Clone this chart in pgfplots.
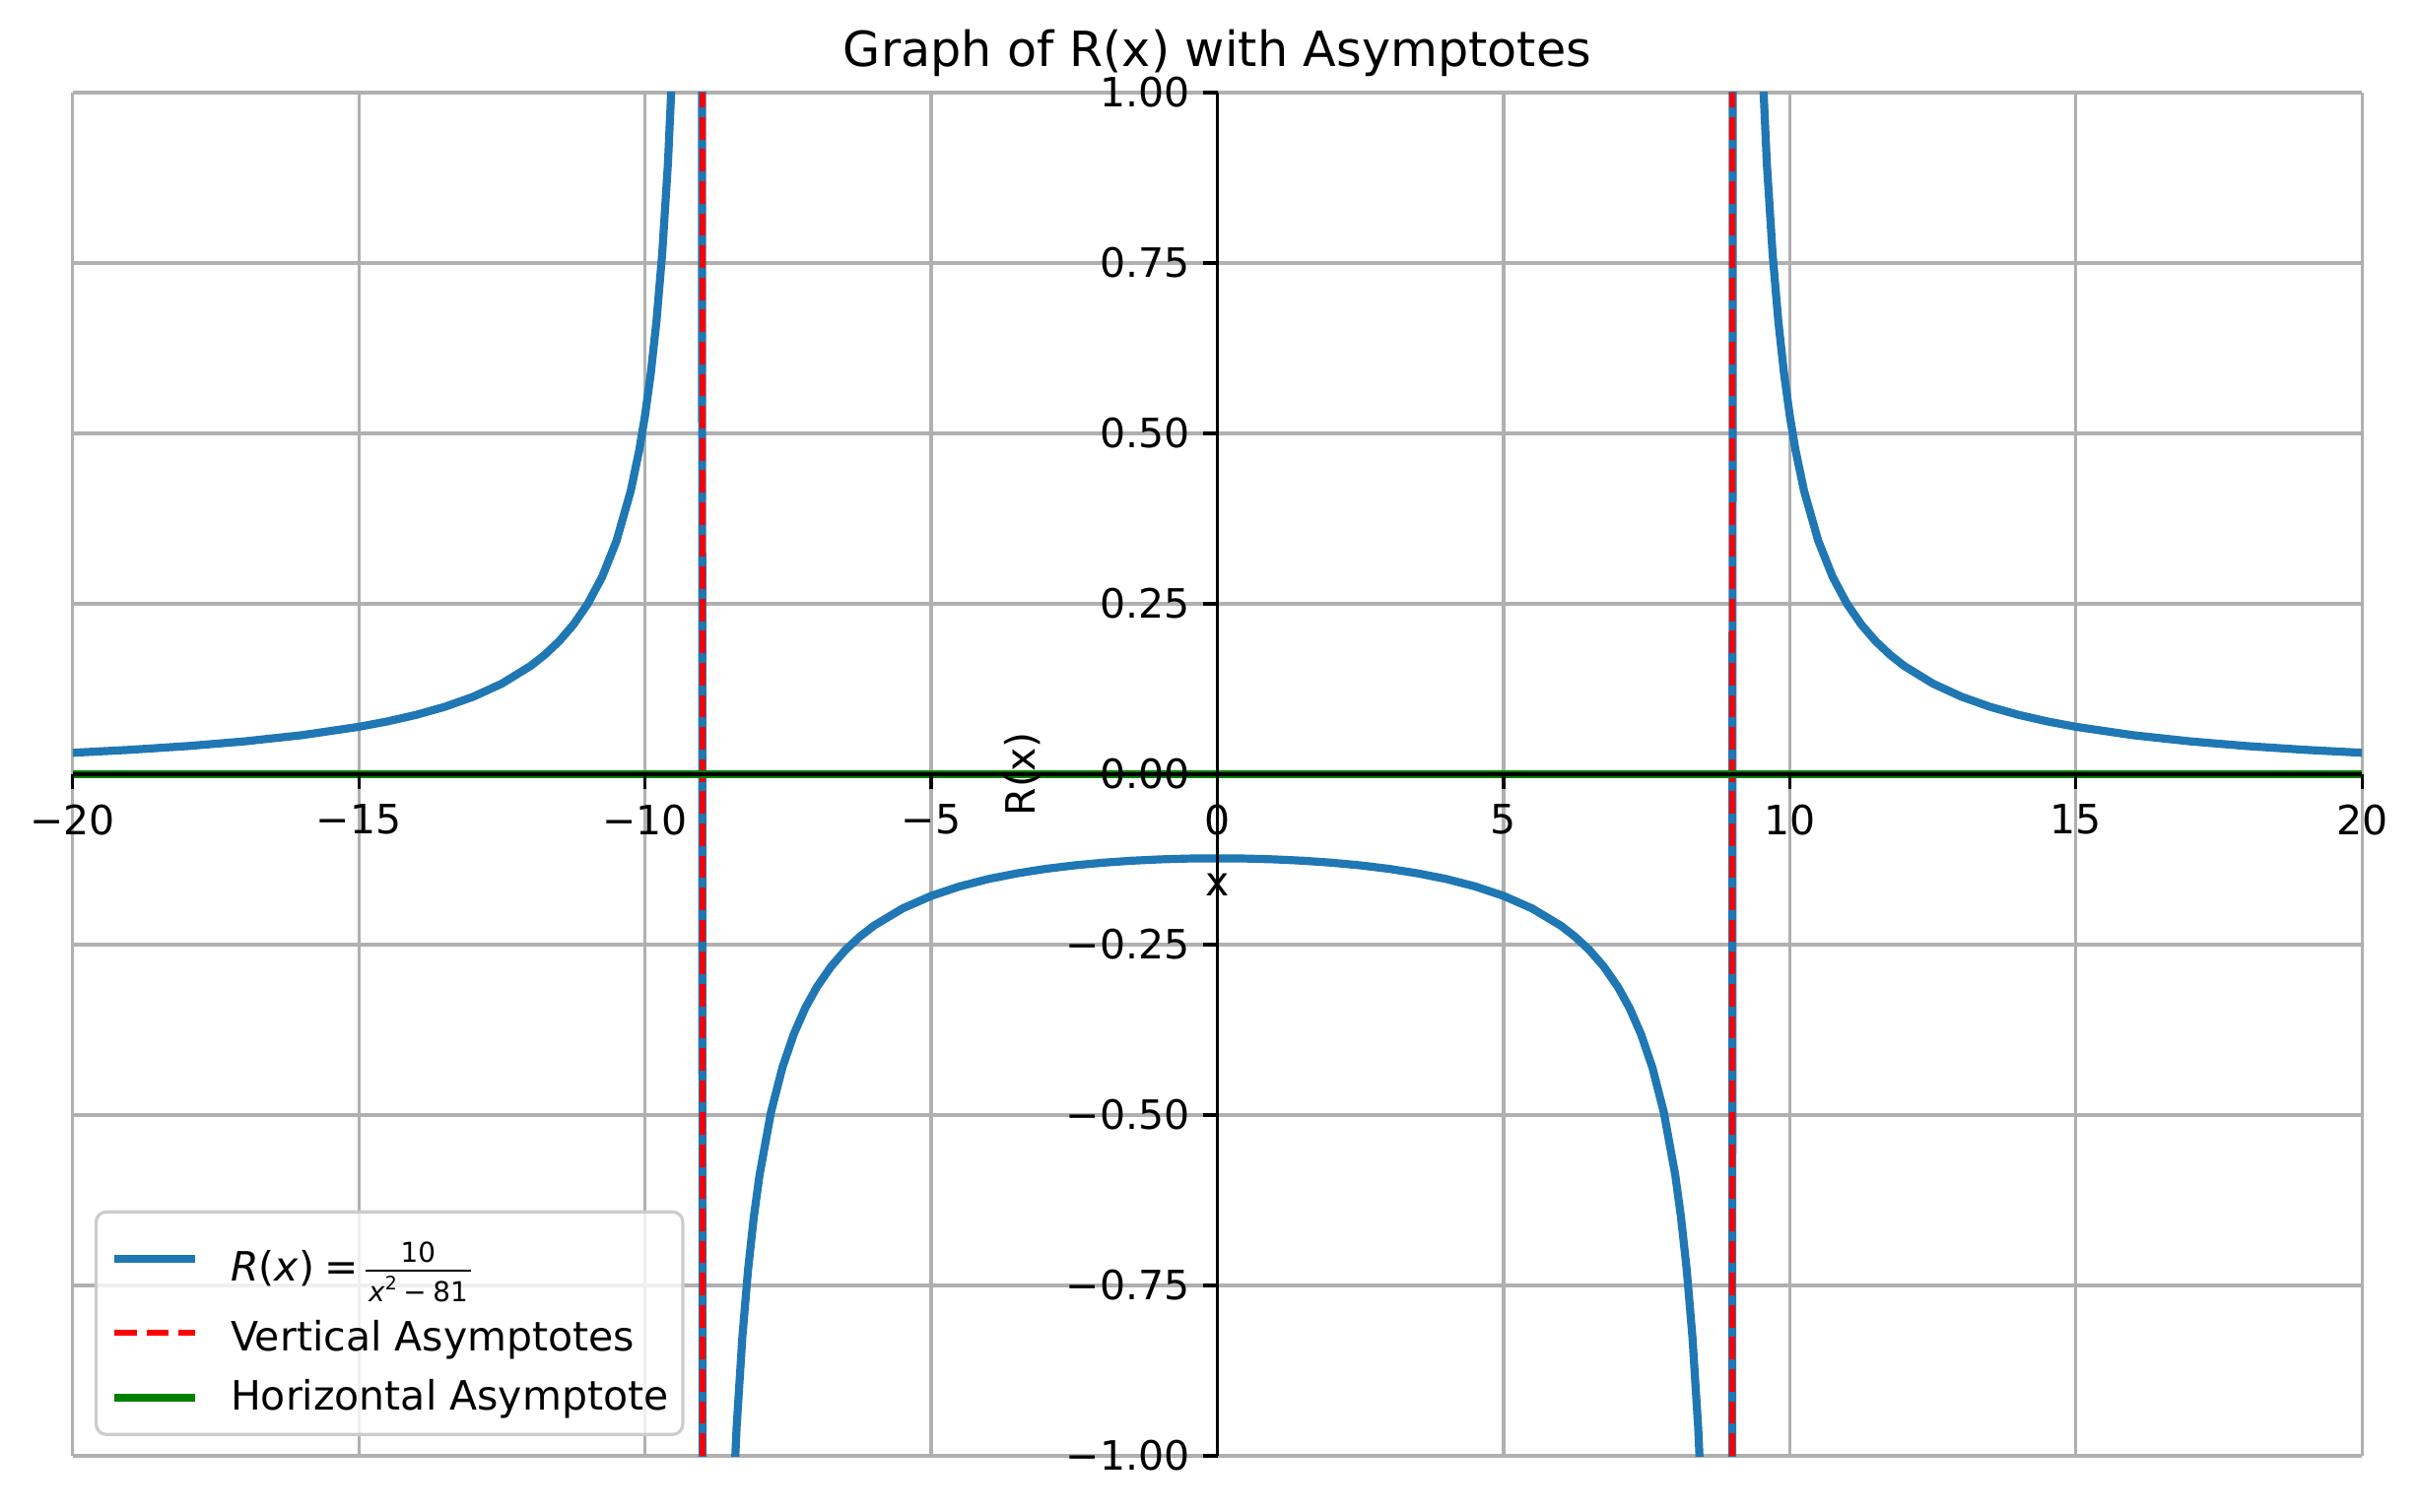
\documentclass[border=0pt]{standalone}
\usepackage{fontspec}
\setmainfont{DejaVu Sans}
\usepackage{pgfplots}
\pgfplotsset{compat=1.18}
\definecolor{mplblue}{HTML}{1F77B4}
\definecolor{mplgreen}{HTML}{008000}
\definecolor{mplred}{HTML}{FF0000}
\definecolor{gridgray}{HTML}{B0B0B0}
\definecolor{legedge}{HTML}{CCCCCC}
\pgfplotsset{
  layers/mylayers/.define layer set={axis background,axis grid,pre main,main,axis ticks,axis lines,axis tick labels,axis descriptions,axis foreground}{/pgfplots/layers/standard},
}
\newcommand{\myfrac}{\hbox{%
  \rlap{\raisebox{2.3pt}{\rule{26pt}{0.45pt}}}%
  \makebox[26pt]{\raisebox{4.6pt}{\fontsize{6.8}{8}\selectfont 10}}%
  \llap{\makebox[26pt]{\raisebox{-5.2pt}{\fontsize{6.8}{8}\selectfont\textit{x}\raisebox{2.9pt}{\fontsize{4.6}{5}\selectfont 2}\hspace{1.6pt}−\hspace{1.6pt}81}}}}}
\begin{document}
\begin{tikzpicture}
\begin{axis}[
  set layers=mylayers,
  scale only axis, width=566.7pt, height=337.6pt,
  xmin=-20, xmax=20, ymin=-1, ymax=1,
  axis lines=middle,
  hide obscured x ticks=false, hide obscured y ticks=false,
  axis line style={-, black, line width=0.8pt},
  xtick={-20,-15,-10,-5,0,5,10,15,20},
  xticklabels={−20,−15,−10,−5,0,5,10,15,20},
  ytick={-1,-0.75,-0.5,-0.25,0,0.25,0.5,0.75,1},
  yticklabels={−1.00,−0.75,−0.50,−0.25,0.00,0.25,0.50,0.75,1.00},
  tick align=outside, major tick length=3.6pt,
  tick style={black, line width=0.8pt},
  grid=major, major grid style={gridgray, line width=0.8pt},
  xticklabel style={anchor=north, inner sep=0pt, yshift=-3.7pt, font=\fontsize{10}{12}\selectfont},
  yticklabel style={anchor=east, inner sep=0pt, xshift=-3pt, font=\fontsize{10}{12}\selectfont},
  title={Graph of R(x) with Asymptotes},
  every axis title/.style={at={(axis description cs:0.5,1)}, anchor=base, yshift=6.5pt, inner sep=0pt, font=\fontsize{12}{14}\selectfont},
  xlabel={x},
  xlabel style={at={([yshift=-24.4pt]axis description cs:0.5,0.5)}, anchor=north, inner sep=0pt, font=\fontsize{10}{12}\selectfont},
  ylabel={R(x)},
  ylabel style={at={([xshift=-43.7pt]axis description cs:0.5,0.5)}, anchor=south, rotate=90, inner sep=0pt, font=\fontsize{10}{12}\selectfont},
  legend cell align=left,
  legend image code/.code={\draw[#1] (0pt,0pt) -- (20pt,0pt);},
  legend style={at={(axis description cs:0,0)}, anchor=south west, xshift=5.4pt, yshift=4.9pt,
    draw=legedge, line width=0.8pt, rounded corners=2.5pt, fill=white, fill opacity=0.8, text opacity=1,
    inner xsep=3.5pt, inner ysep=4.6pt, row sep=5.5pt, column sep=7.8pt,
    font=\fontsize{10}{12}\selectfont, nodes={inner sep=0pt}},
]
\addplot[mplblue, line width=2pt, line join=round] coordinates {
(-20,0.03135) (-19,0.03571) (-18,0.04115) (-17,0.04808) (-16,0.05714) (-15,0.06944)
(-14.5,0.07737) (-14,0.08696) (-13.5,0.09877) (-13,0.11364) (-12.5,0.13289) (-12,0.15873)
(-11.75,0.17525) (-11.5,0.19512) (-11.25,0.21948) (-11,0.25) (-10.75,0.28933) (-10.5,0.34188)
(-10.25,0.41558) (-10.1,0.47596) (-10,0.52632) (-9.9,0.58789) (-9.8,0.66489) (-9.7,0.76394)
(-9.6,0.89606) (-9.5,1.08108) (-9.4,1.35870) (-9.3,1.82149) (-9.2,2.74725) (-9.1,5.52486)
(-9.05,11.0803)
(-8.95,-11.142) (-8.9,-5.5866) (-8.85,-3.7348) (-8.8,-2.8090) (-8.7,-1.8832)
(-8.6,-1.4205) (-8.5,-1.1429) (-8.4,-0.9579) (-8.3,-0.8258) (-8.2,-0.7267) (-8.1,-0.6498)
(-8,-0.5882) (-7.8,-0.4960) (-7.6,-0.4303) (-7.4,-0.3811) (-7.2,-0.3429) (-7,-0.3125)
(-6.75,-0.2822) (-6.5,-0.2581) (-6.25,-0.2385) (-6,-0.2222) (-5.5,-0.1970) (-5,-0.1786)
(-4.5,-0.1646) (-4,-0.1538) (-3.5,-0.1455) (-3,-0.1389) (-2.5,-0.1338) (-2,-0.1299)
(-1.5,-0.1270) (-1,-0.1250) (-0.5,-0.1238) (0,-0.1235)
(0.5,-0.1238) (1,-0.1250) (1.5,-0.1270) (2,-0.1299) (2.5,-0.1338) (3,-0.1389)
(3.5,-0.1455) (4,-0.1538) (4.5,-0.1646) (5,-0.1786) (5.5,-0.1970) (6,-0.2222)
(6.25,-0.2385) (6.5,-0.2581) (6.75,-0.2822) (7,-0.3125) (7.2,-0.3429) (7.4,-0.3811)
(7.6,-0.4303) (7.8,-0.4960) (8,-0.5882) (8.1,-0.6498) (8.2,-0.7267) (8.3,-0.8258)
(8.4,-0.9579) (8.5,-1.1429) (8.6,-1.4205) (8.7,-1.8832) (8.8,-2.8090) (8.85,-3.7348)
(8.9,-5.5866) (8.95,-11.142)
(9.05,11.0803) (9.1,5.52486) (9.2,2.74725) (9.3,1.82149) (9.4,1.35870)
(9.5,1.08108) (9.6,0.89606) (9.7,0.76394) (9.8,0.66489) (9.9,0.58789) (10,0.52632)
(10.1,0.47596) (10.25,0.41558) (10.5,0.34188) (10.75,0.28933) (11,0.25) (11.25,0.21948)
(11.5,0.19512) (11.75,0.17525) (12,0.15873) (12.5,0.13289) (13,0.11364) (13.5,0.09877)
(14,0.08696) (14.5,0.07737) (15,0.06944) (16,0.05714) (17,0.04808) (18,0.04115)
(19,0.03571) (20,0.03135)
};
\addlegendentry{\rule[-5.2pt]{0pt}{17.6pt}\textit{R}(\textit{x})\hspace{2.5pt}=\hspace{1.8pt}\myfrac}
\addplot[mplred, line width=1.5pt, dash pattern=on 5.55pt off 2.4pt] coordinates {(-9,-1) (-9,1)};
\addlegendentry{\rule{0pt}{10.4pt}Vertical Asymptotes}
\addplot[mplred, line width=1.5pt, dash pattern=on 5.55pt off 2.4pt, forget plot] coordinates {(9,-1) (9,1)};
\addplot[mplgreen, line width=2pt] coordinates {(-20,0) (20,0)};
\addlegendentry{Horizontal Asymptote}
\end{axis}
\pgfresetboundingbox
\path ([shift={(-18pt,-13.7pt)}]current axis.south west) rectangle ([shift={(14.1pt,22.9pt)}]current axis.north east);
\end{tikzpicture}
\end{document}
